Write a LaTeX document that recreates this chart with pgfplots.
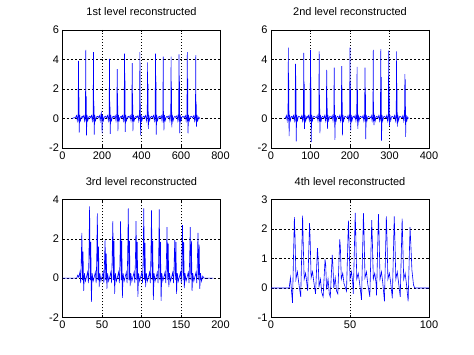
\documentclass[border=0pt]{standalone}
\usepackage{fontspec}
\setmainfont{Liberation Sans}
\usepackage{pgfplots}
\pgfplotsset{compat=1.18}
\pgfplotsset{
  panel/.style={
    scale only axis, width=158pt, height=118pt,
    anchor=south west,
    axis line style={black, line width=0.5pt},
    tick align=inside, major tick length=2.5pt,
    tick style={black, line width=0.5pt},
    xtick pos=both, ytick pos=both,
    xmajorgrids, ymajorgrids,
    x grid style={black, line width=0.5pt, dash pattern=on 1.2pt off 1.8pt},
    y grid style={black, line width=0.5pt, dash pattern=on 2.2pt off 2pt},
    /pgf/number format/assume math mode=true,
    tick label style={font=\fontsize{11}{11}\selectfont},
    title style={font=\fontsize{11}{11}\selectfont, at={(0.5,1)}, anchor=base, yshift=8pt},
  },
  sig/.style={color={rgb,255:red,0;green,0;blue,255}, line width=0.6pt, mark=none},
}
\begin{document}
\begin{tikzpicture}
\path[use as bounding box] (0,0) rectangle (474pt,355pt);

% 1st level
\begin{axis}[panel, at={(62.5pt,207pt)}, xmin=0, xmax=800, ymin=-2, ymax=6,
  xtick={0,200,400,600,800}, ytick={-2,0,2,4,6}, title={1st level reconstructed}]
\addplot[sig] coordinates {
(48,0)(58,0.05)
(65,0.05)(71,0.2)(75,-0.15)(79,0.3)(81,3.9)(82,-0.2)(83,2.0)(84.5,-0.95)(87,0.25)(91,-0.15)(96,0.1)(101,0.15)
(102,0.05)(108,0.2)(112,-0.15)(116,0.3)(118,4.65)(119,-0.2)(120,1.5)(121.5,-1.15)(124,0.25)(128,-0.15)(133,0.1)(138,0.15)
(141,0.05)(147,0.2)(151,-0.15)(155,0.3)(157,4.5)(158,-0.2)(159,1.2)(160.5,-1.1)(163,0.25)(167,-0.15)(172,0.1)(177,0.15)
(181,0.05)(187,0.2)(191,-0.15)(195,0.3)(197,0.4)(198,-0.2)(199,0.3)(200.5,-1.0)(203,0.25)(207,-0.15)(212,0.1)(217,0.15)
(222,0.05)(228,0.2)(232,-0.15)(236,0.3)(238,4.05)(239,-0.2)(240,1.15)(241.5,-1.05)(244,0.25)(248,-0.15)(253,0.1)(258,0.15)
(261,0.05)(267,0.2)(271,-0.15)(275,0.3)(277,3.35)(278,-0.2)(279,1.7)(280.5,-0.85)(283,0.25)(287,-0.15)(292,0.1)(297,0.15)
(298,0.05)(304,0.2)(308,-0.15)(312,0.3)(314,4.4)(315,-0.2)(316,3.1)(317.5,-0.9)(320,0.25)(324,-0.15)(329,0.1)(334,0.15)
(337,0.05)(343,0.2)(347,-0.15)(351,0.3)(353,3.75)(354,-0.2)(355,1.7)(356.5,-0.85)(359,0.25)(363,-0.15)(368,0.1)(373,0.15)
(376,0.05)(382,0.2)(386,-0.15)(390,0.3)(392,4.5)(393,-0.2)(394,1.0)(395.5,-1.15)(398,0.25)(402,-0.15)(407,0.1)(412,0.15)
(415,0.05)(421,0.2)(425,-0.15)(429,0.3)(431,3.8)(432,-0.2)(433,2.35)(434.5,-0.7)(437,0.25)(441,-0.15)(446,0.1)(451,0.15)
(455,0.05)(461,0.2)(465,-0.15)(469,0.3)(471,4.4)(472,-0.2)(473,2.9)(474.5,-1.1)(477,0.25)(481,-0.15)(486,0.1)(491,0.15)
(494,0.05)(500,0.2)(504,-0.15)(508,0.3)(510,4.2)(511,-0.2)(512,0.5)(513.5,-0.8)(516,0.25)(520,-0.15)(525,0.1)(530,0.15)
(534,0.05)(540,0.2)(544,-0.15)(548,0.3)(550,4.2)(551,-0.2)(552,2.1)(553.5,-0.6)(556,0.25)(560,-0.15)(565,0.1)(570,0.15)
(574,0.05)(580,0.2)(584,-0.15)(588,0.3)(590,4.35)(591,-0.2)(592,2.9)(593.5,-1.0)(596,0.25)(600,-0.15)(605,0.1)(610,0.15)
(616,0.05)(622,0.2)(626,-0.15)(630,0.3)(632,4.5)(633,-0.2)(634,2.7)(635.5,-1.0)(638,0.25)(642,-0.15)(647,0.1)(652,0.15)
(659,0.05)(665,0.2)(669,-0.15)(673,0.3)(675,4.3)(676,-0.2)(677,0.95)(678.5,-0.55)(681,0.25)(685,-0.15)(690,0.1)(695,0.0)
};
\end{axis}

% 2nd level
\begin{axis}[panel, at={(271pt,207pt)}, xmin=0, xmax=400, ymin=-2, ymax=6,
  xtick={0,100,200,300,400}, ytick={-2,0,2,4,6}, title={2nd level reconstructed}]
\addplot[sig] coordinates {
(35,0)
(37,0.05)(39,0.2)(41,-0.15)(43,0.3)(44,4.8)(44.5,-0.2)(45,2.6)(45.8,-1.2)(47,0.25)(49,-0.15)(51,0.1)(52.5,0.15)
(55,0.05)(57,0.2)(59,-0.15)(61,0.3)(62,3.7)(62.5,-0.2)(63,2.9)(63.8,-1.55)(65,0.25)(67,-0.15)(69,0.1)(70.5,0.15)
(76,0.05)(78,0.2)(80,-0.15)(82,0.3)(83,4.45)(83.5,-0.2)(84,2.5)(84.8,-0.7)(86,0.25)(88,-0.15)(90,0.1)(91.5,0.15)
(93,0.05)(95,0.2)(97,-0.15)(99,0.3)(100,4.65)(100.5,-0.2)(101,2.8)(101.8,-1.6)(103,0.25)(105,-0.15)(107,0.1)(108.5,0.15)
(115,0.05)(117,0.2)(119,-0.15)(121,0.3)(122,4.55)(122.5,-0.2)(123,1.6)(123.8,-1.0)(125,0.25)(127,-0.15)(129,0.1)(130.5,0.15)
(134,0.05)(136,0.2)(138,-0.15)(140,0.3)(141,3.3)(141.5,-0.2)(142,1.4)(142.8,-0.7)(144,0.25)(146,-0.15)(148,0.1)(149.5,0.15)
(153,0.05)(155,0.2)(157,-0.15)(159,0.3)(160,3.45)(160.5,-0.2)(161,0.9)(161.8,-1.45)(163,0.25)(165,-0.15)(167,0.1)(168.5,0.15)
(172,0.05)(174,0.2)(176,-0.15)(178,0.3)(179,3.55)(179.5,-0.2)(180,2.1)(180.8,-1.15)(182,0.25)(184,-0.15)(186,0.1)(187.5,0.15)
(193,0.05)(195,0.2)(197,-0.15)(199,0.3)(200,4.8)(200.5,-0.2)(201,2.5)(201.8,-0.8)(203,0.25)(205,-0.15)(207,0.1)(208.5,0.15)
(211,0.05)(213,0.2)(215,-0.15)(217,0.3)(218,3.5)(218.5,-0.2)(219,1.95)(219.8,-0.7)(221,0.25)(223,-0.15)(225,0.1)(226.5,0.15)
(231,0.05)(233,0.2)(235,-0.15)(237,0.3)(238,3.45)(238.5,-0.2)(239,2.1)(239.8,-1.4)(241,0.25)(243,-0.15)(245,0.1)(246.5,0.15)
(252,0.05)(254,0.2)(256,-0.15)(258,0.3)(259,4.65)(259.5,-0.2)(260,0.4)(260.8,-0.45)(262,0.25)(264,-0.15)(266,0.1)(267.5,0.15)
(271,0.05)(273,0.2)(275,-0.15)(277,0.3)(278,4.7)(278.5,-0.2)(279,2.8)(279.8,-1.5)(281,0.25)(283,-0.15)(285,0.1)(286.5,0.15)
(291,0.05)(293,0.2)(295,-0.15)(297,0.3)(298,4.6)(298.5,-0.2)(299,2.2)(299.8,-0.5)(301,0.25)(303,-0.15)(305,0.1)(306.5,0.15)
(311,0.05)(313,0.2)(315,-0.15)(317,0.3)(318,4.55)(318.5,-0.2)(319,1.95)(319.8,-0.55)(321,0.25)(323,-0.15)(325,0.1)(326.5,0.15)
(332,0.05)(334,0.2)(336,-0.15)(338,0.3)(339,3.0)(339.5,-0.2)(340,2.65)(340.8,-1.25)(342,0.25)(344,-0.15)(346,0.1)(348,0)
};
\end{axis}

% 3rd level
\begin{axis}[panel, at={(62.5pt,37.5pt)}, xmin=0, xmax=200, ymin=-2, ymax=4,
  xtick={0,50,100,150,200}, ytick={-2,0,2,4}, title={3rd level reconstructed}]
\addplot[sig] coordinates {
(0,0)(18,0)(19.3,0.15)
(20.5,0.05)(22,0.3)(23,-0.25)(23.7,0.8)(24.5,2.3)(25.3,-0.1)(26,1.35)(26.8,-0.65)(27.7,0.25)(29,-0.15)
(30.3,0.05)(31.8,0.3)(32.8,-0.25)(33.5,1.2)(34.3,3.65)(35.1,-0.1)(35.8,1.85)(36.6,-1.2)(37.5,0.25)(38.8,-0.15)
(40.1,0.05)(41.6,0.3)(42.6,-0.25)(43.3,0.9)(44.1,3.3)(44.9,-0.1)(45.6,1.6)(46.4,-0.45)(47.3,0.25)(48.6,-0.15)
(49.9,0.05)(51.4,0.3)(52.4,-0.25)(53.1,0.7)(53.9,1.95)(54.7,-0.1)(55.4,1.25)(56.2,-0.55)(57.1,0.25)(58.4,-0.15)
(59.7,0.05)(61.2,0.3)(62.2,-0.25)(62.9,1.1)(63.7,2.9)(64.5,-0.1)(65.2,1.9)(66,-0.8)(66.9,0.25)(68.2,-0.15)
(69.5,0.05)(71,0.3)(72,-0.25)(72.7,0.8)(73.5,2.9)(74.3,-0.1)(75,1.9)(75.8,-1.0)(76.7,0.25)(78,-0.15)
(79.3,0.05)(80.8,0.3)(81.8,-0.25)(82.5,1.2)(83.3,3.55)(84.1,-0.1)(84.8,1.9)(85.6,-0.4)(86.5,0.25)(87.8,-0.15)
(89.1,0.05)(90.6,0.3)(91.6,-0.25)(92.3,0.9)(93.1,2.9)(93.9,-0.1)(94.6,1.85)(95.4,-0.95)(96.3,0.25)(97.6,-0.15)
(98.9,0.05)(100.4,0.3)(101.4,-0.25)(102.1,1.0)(102.9,3.55)(103.7,-0.1)(104.4,1.8)(105.2,-0.45)(106.1,0.25)(107.4,-0.15)
(108.7,0.05)(110.2,0.3)(111.2,-0.25)(111.9,1.1)(112.7,3.45)(113.5,-0.1)(114.2,1.9)(115,-1.1)(115.9,0.25)(117.2,-0.15)
(118.5,0.05)(120,0.3)(121,-0.25)(121.7,0.9)(122.5,3.5)(123.3,-0.1)(124,1.85)(124.8,-1.15)(125.7,0.25)(127,-0.15)
(128.3,0.05)(129.8,0.3)(130.8,-0.25)(131.5,0.8)(132.3,2.6)(133.1,-0.1)(133.8,1.75)(134.6,-0.45)(135.5,0.25)(136.8,-0.15)
(138.1,0.05)(139.6,0.3)(140.6,-0.25)(141.3,0.7)(142.1,1.95)(142.9,-0.1)(143.6,1.85)(144.4,-0.8)(145.3,0.25)(146.6,-0.15)
(147.9,0.05)(149.4,0.3)(150.4,-0.25)(151.1,1.0)(151.9,2.7)(152.7,-0.1)(153.4,1.85)(154.2,-0.5)(155.1,0.25)(156.4,-0.15)
(157.7,0.05)(159.2,0.3)(160.2,-0.25)(160.9,0.9)(161.7,2.6)(162.5,-0.1)(163.2,1.9)(164,-0.65)(164.9,0.25)(166.2,-0.15)
(167.5,0.05)(169,0.3)(170,-0.25)(170.7,0.8)(171.5,2.3)(172.3,-0.1)(173,1.7)(173.8,-0.55)(174.7,0.25)(176,-0.15)
(177.5,0.1)(179,0)(191,0)
};
\end{axis}

% 4th level
\begin{axis}[panel, at={(271pt,37.5pt)}, xmin=0, xmax=100, ymin=-1, ymax=3,
  xtick={0,50,100}, ytick={-1,0,1,2,3}, title={4th level reconstructed}]
\addplot[sig] coordinates {
(0,0)(11.5,0)(12.3,0.35)
(13.6,-0.5)(14.8,2.4)(15.2,1.75)(15.8,0.3)(16.7,0.55)(17.5,0.2)
(18.8,-0.3)(20,2.45)(20.4,1.5)(21,0.3)(21.9,0.5)(22.7,0.15)
(23.2,-0.1)(24.4,2.2)(24.8,1.6)(25.4,0.35)(26.3,0.55)(27.1,0.2)
(28.2,-0.2)(29.4,1.35)(29.8,1.0)(30.4,0.05)(31.3,0.3)(32.1,-0.15)
(33.0,-0.3)(34.2,0.97)(34.6,0.8)(35.2,-0.05)(36.1,0.3)(36.9,-0.2)
(37.55,-0.3)(38.75,1.12)(39.15,0.8)(39.75,0.0)(40.65,0.35)(41.45,-0.1)
(42.3,-0.2)(43.5,1.65)(43.9,1.4)(44.5,0.3)(45.4,0.5)(46.2,0.15)
(47.8,-0.1)(49,2.28)(49.4,1.6)(50,0.3)(50.9,0.55)(51.7,0.2)
(52.1,-0.2)(53.3,2.55)(53.7,1.7)(54.3,0.3)(55.2,0.5)(56,0.2)
(57.3,-0.4)(58.5,2.54)(58.9,1.8)(59.5,0.35)(60.4,0.55)(61.2,0.15)
(62.55,-0.3)(63.75,2.3)(64.15,1.6)(64.75,0.3)(65.65,0.5)(66.45,0.2)
(66.8,-0.25)(68,2.5)(68.4,1.8)(69,0.3)(69.9,0.55)(70.7,0.2)
(71.8,-0.45)(73,2.43)(73.4,1.7)(74,0.3)(74.9,0.5)(75.7,0.2)
(76.8,-0.35)(78,2.43)(78.4,1.7)(79,0.3)(79.9,0.55)(80.7,0.2)
(81.8,-0.3)(83,2.35)(83.4,1.5)(84,0.3)(84.9,0.5)(85.7,0.15)
(86.8,-0.45)(88,2.06)(88.4,1.6)(89.2,0.6)(90.2,0.1)(91,0.0)
(100,0)
};
\end{axis}
\end{tikzpicture}
\end{document}
